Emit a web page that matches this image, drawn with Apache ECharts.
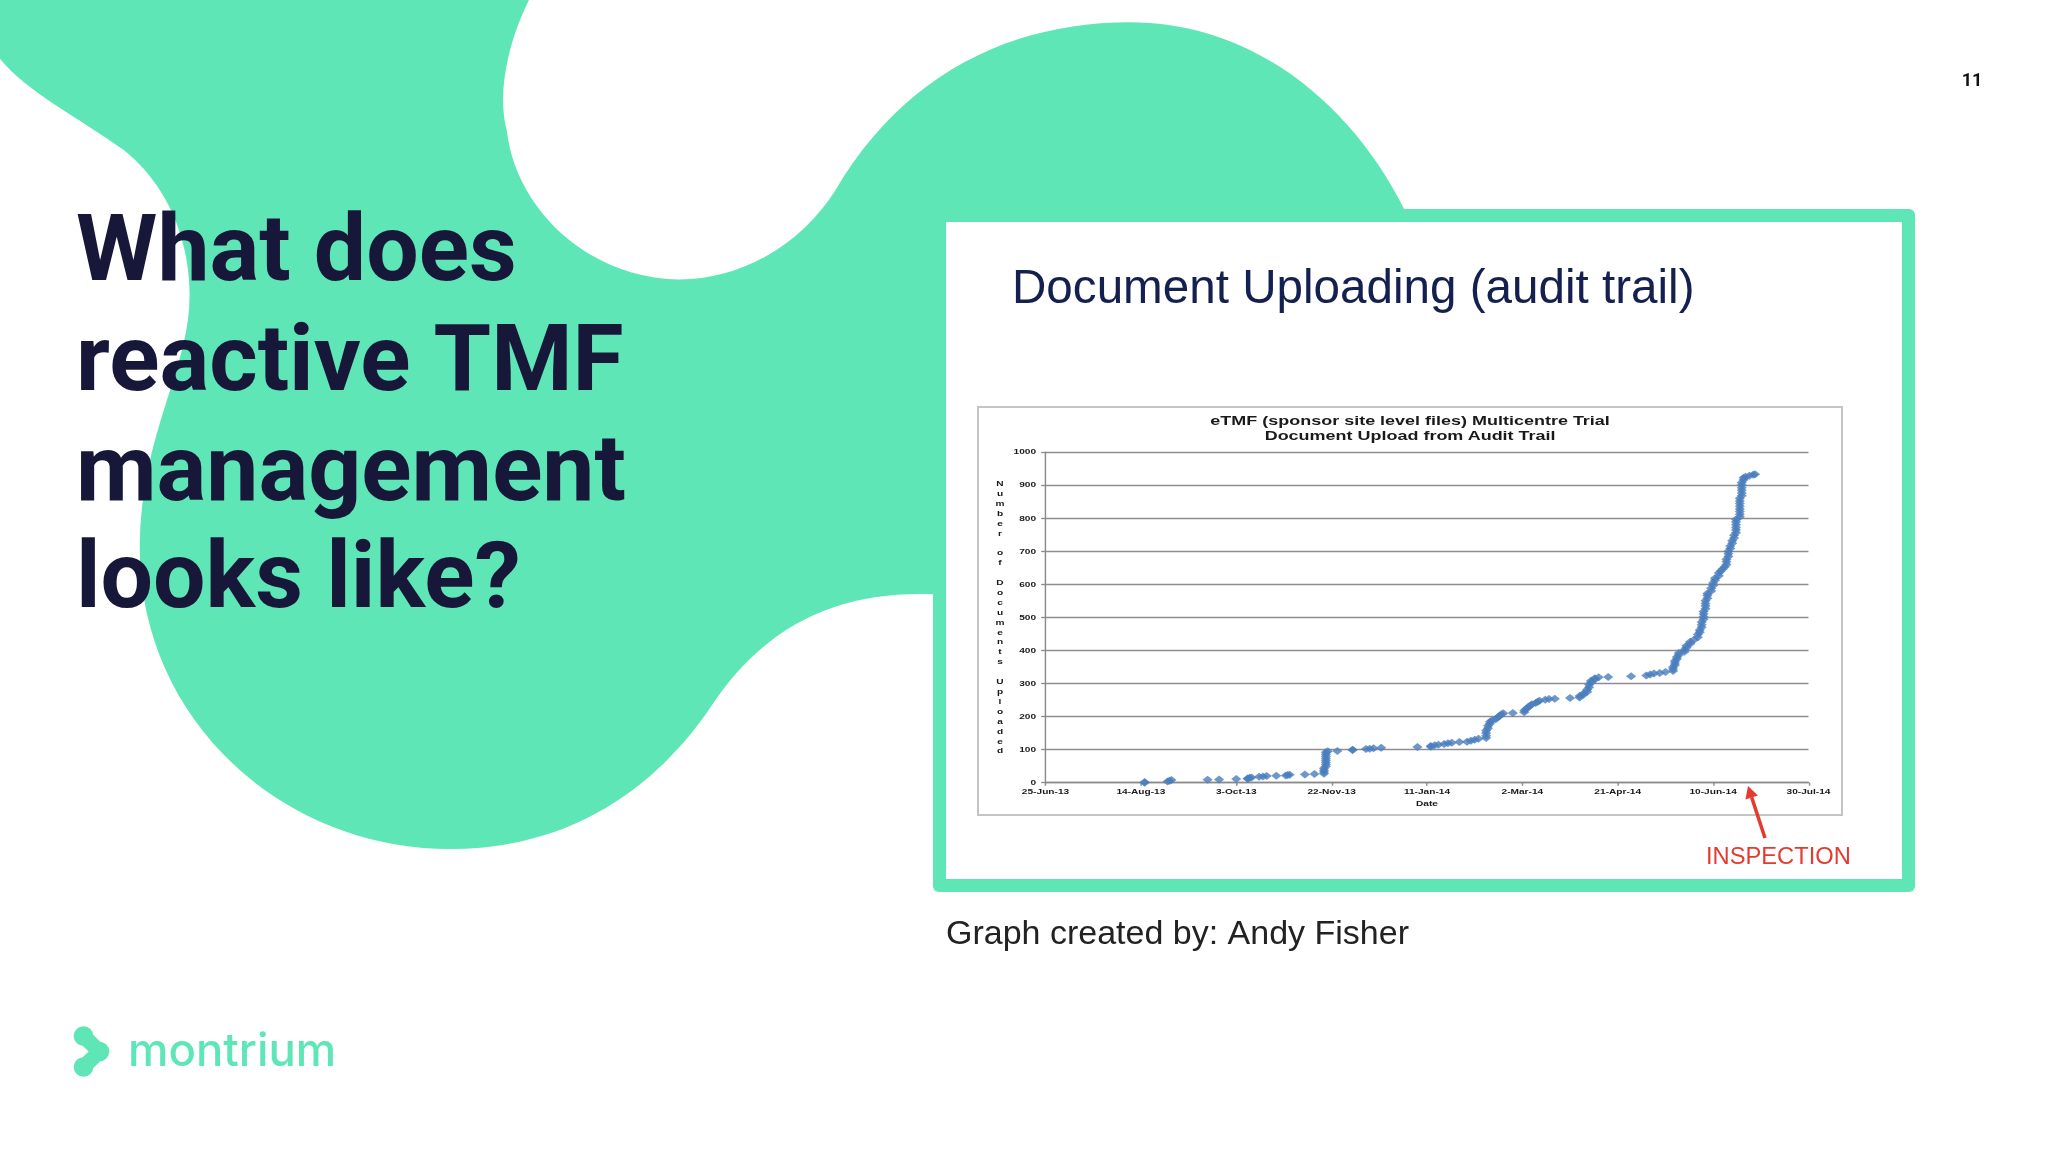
<!DOCTYPE html>
<html>
<head>
<meta charset="utf-8">
<script src="https://cdn.jsdelivr.net/npm/echarts@6.0.0/dist/echarts.min.js"></script>
<style>
html, body { margin: 0; padding: 0; background: #ffffff; }
#blob { position: absolute; left: 0; top: 0; width: 2048px; height: 1152px; }
#bg { position: absolute; left: 0; top: 0; width: 2048px; height: 1152px; }
#chart { position: absolute; left: 978px; top: 407px; width: 595.86px; height: 408px;
         transform: scaleX(1.45); transform-origin: 0 0; }
</style>
</head>
<body>
<svg id="blob" viewBox="0 0 1568 882" preserveAspectRatio="none"><path id="blobPath" fill="#5fe6b7"></path></svg>
<div id="bg"></div>
<div id="chart"></div>
<script>
// ---------------- DATA ----------------
const slideTitle = ['What does', 'reactive TMF', 'management', 'looks like?'];
const cardTitle = 'Document Uploading (audit trail)';
const chartTitle = ['eTMF (sponsor site level files) Multicentre Trial', 'Document Upload from Audit Trail'];
const yAxisName = 'Number of Documents Uploaded';
const xAxisName = 'Date';
const xTickLabels = ['25-Jun-13', '14-Aug-13', '3-Oct-13', '22-Nov-13', '11-Jan-14',
                     '2-Mar-14', '21-Apr-14', '10-Jun-14', '30-Jul-14'];
const axisStartDate = '2013-06-25';
const annotation = 'INSPECTION';
const credit = 'Graph created by: Andy Fisher';
const pageNumber = '11';
const brand = 'montrium';

// Upload dates and the cumulative document counts recorded on each date
const uploadDates = [
  '2013-08-16','2013-08-28','2013-08-29','2013-08-30','2013-09-18','2013-09-24','2013-10-03',
  '2013-10-09','2013-10-10','2013-10-11','2013-10-15','2013-10-17','2013-10-19','2013-10-24',
  '2013-10-29','2013-10-30','2013-10-31','2013-11-08','2013-11-13','2013-11-18','2013-11-19',
  '2013-11-20','2013-11-25','2013-12-03','2013-12-10','2013-12-12','2013-12-14','2013-12-18',
  '2014-01-06','2014-01-13','2014-01-15','2014-01-17','2014-01-20','2014-01-22','2014-01-24',
  '2014-01-28','2014-02-01','2014-02-03','2014-02-05','2014-02-07','2014-02-11','2014-02-12',
  '2014-02-13','2014-02-14','2014-02-16','2014-02-17','2014-02-18','2014-02-19','2014-02-20',
  '2014-02-25','2014-03-03','2014-03-04','2014-03-05','2014-03-06','2014-03-07','2014-03-09',
  '2014-03-10','2014-03-11','2014-03-14','2014-03-16','2014-03-19','2014-03-27','2014-04-01',
  '2014-04-03','2014-04-05','2014-04-06','2014-04-07','2014-04-09','2014-04-11','2014-04-16',
  '2014-04-28','2014-05-06','2014-05-08','2014-05-10','2014-05-13','2014-05-16','2014-05-20',
  '2014-05-21','2014-05-22','2014-05-23','2014-05-26','2014-05-27','2014-05-29','2014-05-31',
  '2014-06-02','2014-06-03','2014-06-04','2014-06-05','2014-06-06','2014-06-07','2014-06-09',
  '2014-06-10','2014-06-11','2014-06-13','2014-06-14','2014-06-15','2014-06-16','2014-06-17',
  '2014-06-18','2014-06-19','2014-06-20','2014-06-21','2014-06-22','2014-06-24','2014-06-25',
  '2014-06-26','2014-06-27','2014-06-29','2014-07-01','2014-07-02'
];
const cumulativeDocs = [
  [0,2],[4],[6],[8],[9],[10],[11],
  [12,13],[15],[16],[18],[19],[20],[21],
  [22],[23],[24],[25],[26],[27,32,38,44],[50,56,62,68,74,80,86,92],
  [95],[96],[99,100],[102],[103],[104],[106],
  [108],[109,111],[113],[115],[117],[119],[121],
  [123],[124],[127],[130],[133],[135,142,150,158],[165,172],
  [178,184],[188],[192],[197],[202],[207],[210],
  [211],[213,218],[223],[228],[233],[237],[241],
  [245],[248],[251],[253],[254],[256],[258,262],
  [266,270],[275,282],[289,296],[303,308],[312,316],[319],[320],
  [322],[324],[327],[330],[332],[335],[338,344,350],
  [356,362,368],[374,380],[386,392],[396,402],[408,414],[420,426],[432],
  [440,448],[455,462],[470,478,486],[494,502,510,518],[526,534,542,550],[558,566,572],[580,588],
  [596,604],[612,618],[626,634],[640],[646],[652],[660,668,676],
  [684,692,700],[708,716],[724,732],[740,748],[756,764,772,780,788,796],[804,812,820,828,836,844,852,860],[868,876,884,892,900,908],
  [916,922],[925],[928],[931],[933]
];

// ---------------- BUILD ----------------
function dayNumber(s) {
  const p = s.split('-').map(Number);
  return Date.UTC(p[0], p[1] - 1, p[2]) / 86400000;
}
const day0 = dayNumber(axisStartDate);
const points = [];
uploadDates.forEach(function (d, i) {
  const x = dayNumber(d) - day0;
  cumulativeDocs[i].forEach(function (v) { points.push([x, v]); });
});

const GREEN = '#5fe6b7';
const BLOB = 'M0 0 L405 0 C390 30 380 70 388 100 C395 160 450 213 520 214 ' +
  'C570 214 615 185 640 145 C690 60 770 17 865 17 C960 17 1035 80 1075 160 ' +
  'L1075 400 L715 400 L715 455 C640 452 585 480 545 540 C505 600 440 650 345 650 ' +
  'C215 650 107 550 107 420 C107 330 148 280 145 220 C143 170 120 135 95 115 ' +
  'C60 90 20 70 0 45 Z';
document.getElementById('blobPath').setAttribute('d', BLOB);

// ---------------- BACKGROUND SLIDE ----------------
const bg = echarts.init(document.getElementById('bg'), null, { width: 2048, height: 1152 });
const titleCenters = [257, 367, 477, 584];
const bgGraphic = [
  { type: 'rect', shape: { x: 933, y: 209, width: 982, height: 683, r: 6 }, style: { fill: GREEN } },
  { type: 'rect', shape: { x: 946, y: 222, width: 956, height: 657 }, style: { fill: '#ffffff' } },
  { type: 'rect', shape: { x: 978, y: 407, width: 864, height: 408 },
    style: { fill: '#ffffff', stroke: '#c4c4c4', lineWidth: 2 } },
  { type: 'text', style: { x: 1972, y: 81, text: pageNumber, fill: '#111111',
      font: 'bold 18px Roboto', align: 'center', verticalAlign: 'middle' } },
  { type: 'text', style: { x: 1012, y: 290, text: cardTitle, fill: '#14204f',
      font: '47.6px "Liberation Sans"', align: 'left', verticalAlign: 'middle' } },
  { type: 'text', style: { x: 1706, y: 857.5, text: annotation, fill: '#e33b2f',
      font: '23.7px "Liberation Sans"', align: 'left', verticalAlign: 'middle' } },
  { type: 'text', style: { x: 946, y: 935, text: credit, fill: '#222222',
      font: '34px "Liberation Sans"', align: 'left', verticalAlign: 'middle' } },
  { type: 'line', shape: { x1: 1765, y1: 838, x2: 1751.7, y2: 797.4 },
    style: { stroke: '#e33b2f', lineWidth: 3.5 } },
  { type: 'polygon', shape: { points: [[1748, 786], [1757.9, 795.4], [1745.5, 799.4]] },
    style: { fill: '#e33b2f' } },
  { type: 'polyline', shape: { points: [[83.5, 1036], [99.5, 1051.5], [83.5, 1067]] },
    style: { stroke: GREEN, lineWidth: 15, lineCap: 'round', lineJoin: 'round' } },
  { type: 'circle', shape: { cx: 83.5, cy: 1036, r: 9.8 }, style: { fill: GREEN } },
  { type: 'circle', shape: { cx: 99.5, cy: 1051.5, r: 9.8 }, style: { fill: GREEN } },
  { type: 'circle', shape: { cx: 83.5, cy: 1067, r: 9.8 }, style: { fill: GREEN } },
  { type: 'text', style: { x: 128, y: 1052, text: brand, fill: GREEN,
      font: '500 45.5px Inter', align: 'left', verticalAlign: 'middle' } }
];
slideTitle.forEach(function (t, i) {
  bgGraphic.push({ type: 'text', style: { x: 76, y: titleCenters[i], text: t, fill: '#17173a',
    font: 'bold 93px Roboto', align: 'left', verticalAlign: 'middle' } });
});
bg.setOption({ animation: false, graphic: bgGraphic });

// ---------------- CHART ----------------
const chart = echarts.init(document.getElementById('chart'), null, { renderer: 'svg' });
const LBL = { fontFamily: 'Liberation Sans', fontSize: 7, fontWeight: 'bold', color: '#1a1a1a' };
chart.setOption({
  animation: false,
  title: {
    text: chartTitle.join('\n'), left: 'center', top: 6, padding: 0,
    textStyle: { fontFamily: 'Liberation Sans', fontSize: 12.4, fontWeight: 'bold',
                 color: '#1a1a1a', lineHeight: 15 }
  },
  grid: { left: 46.55, top: 45, width: 526.2, height: 330.7, outerBoundsMode: 'none' },
  xAxis: {
    type: 'value', min: 0, max: 400, interval: 50,
    name: xAxisName, nameLocation: 'middle', nameGap: 19.5,
    nameTextStyle: Object.assign({}, LBL, { verticalAlign: 'middle', align: 'center' }),
    axisLine: { show: true, lineStyle: { color: '#8a8a8a', width: 1.3 } },
    axisTick: { show: true, length: 3, lineStyle: { color: '#8a8a8a', width: 1 } },
    axisLabel: Object.assign({}, LBL, { margin: 5,
      formatter: function (v) { return xTickLabels[Math.round(v / 50)]; } }),
    splitLine: { show: false }
  },
  yAxis: {
    type: 'value', min: 0, max: 1000, interval: 100,
    name: yAxisName.split('').join('\n'), nameLocation: 'middle', nameRotate: 0, nameGap: 31.4,
    nameTextStyle: Object.assign({}, LBL, { align: 'center', verticalAlign: 'middle', lineHeight: 9.9 }),
    axisLine: { show: true, lineStyle: { color: '#8a8a8a', width: 1 } },
    axisTick: { show: true, length: 3, lineStyle: { color: '#8a8a8a', width: 1.3 } },
    axisLabel: Object.assign({}, LBL, { margin: 6.5,
      formatter: function (v) { return String(v); } }),
    splitLine: { show: true, lineStyle: { color: '#8e8e8e', width: 1.3 } }
  },
  series: [{
    type: 'scatter', symbol: 'diamond', symbolSize: [7, 8],
    itemStyle: { color: '#4a7dbd' }, data: points
  }]
});
</script>
</body>
</html>
